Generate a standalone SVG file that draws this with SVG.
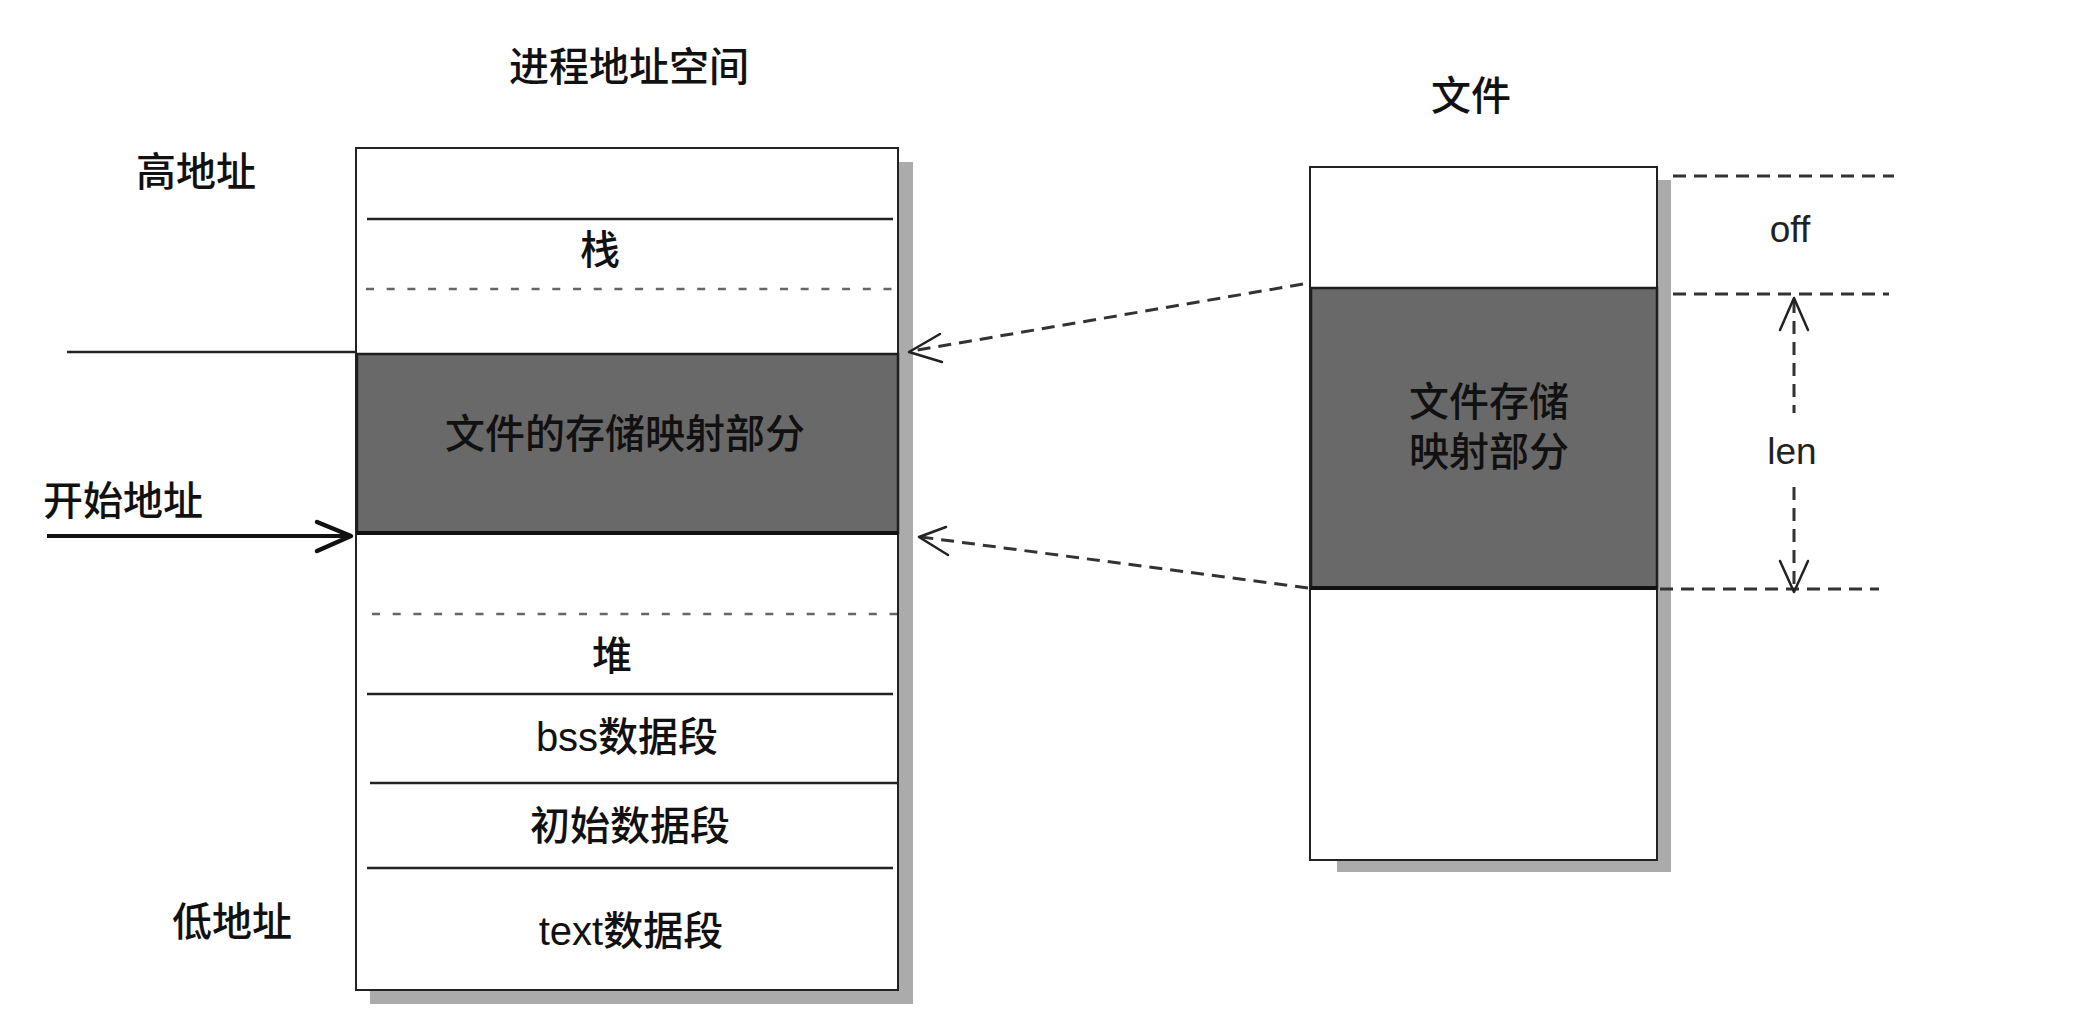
<svg xmlns="http://www.w3.org/2000/svg" width="2095" height="1014" viewBox="0 0 2095 1014">
<style>
text{font-family:"Liberation Sans","Noto Sans CJK SC",sans-serif;font-size:40px;font-weight:500;fill:#111;text-anchor:middle}
.lat{font-size:37px;font-weight:400;fill:#222}
.box{fill:#fff;stroke:#222;stroke-width:2}
.shadow{fill:#ababab}
.band{fill:#696969;stroke:#1e1e1e;stroke-width:2.5}
.sep{stroke:#222;stroke-width:2.5;fill:none}
.dot{stroke:#666;stroke-width:2.5;stroke-dasharray:8 12.7;fill:none}
.dash{stroke:#333;stroke-width:3;stroke-dasharray:13 8;fill:none}
.head{stroke:#222;stroke-width:2.5;fill:none;stroke-linecap:round;stroke-linejoin:round}
</style>
<rect width="2095" height="1014" fill="#fff"/>
<g id="process-space">
<rect class="shadow" x="898" y="162" width="15" height="842"/>
<rect class="shadow" x="370" y="989" width="543" height="15"/>
<rect class="box" x="356" y="148" width="542" height="842"/>
<line class="sep" x1="367" y1="219" x2="893" y2="219"/>
<line class="dot" x1="366" y1="289" x2="895" y2="289"/>
<rect class="band" x="357" y="354" width="541" height="179"/>
<line x1="357" y1="533" x2="898" y2="533" stroke="#111" stroke-width="4"/>
<line class="dot" x1="372" y1="614" x2="897" y2="614"/>
<line class="sep" x1="367" y1="694" x2="893" y2="694"/>
<line class="sep" x1="370" y1="783" x2="897" y2="783"/>
<line class="sep" x1="367" y1="868" x2="893" y2="868"/>
<text x="629" y="81">进程地址空间</text>
<text x="600" y="264">栈</text>
<text x="625" y="448">文件的存储映射部分</text>
<text x="612" y="670">堆</text>
<text x="627" y="751">bss数据段</text>
<text x="630" y="840">初始数据段</text>
<text x="631" y="945">text数据段</text>
</g>
<g id="labels-left">
<text x="196" y="186">高地址</text>
<text x="123" y="515">开始地址</text>
<text x="232" y="936">低地址</text>
</g>
<g id="file">
<rect class="shadow" x="1657" y="180" width="14" height="692"/>
<rect class="shadow" x="1337" y="860" width="334" height="12"/>
<rect class="box" x="1310" y="167" width="347" height="693"/>
<rect class="band" x="1311" y="288" width="346" height="300"/>
<line x1="1311" y1="588" x2="1657" y2="588" stroke="#111" stroke-width="4"/>
<text x="1471" y="110">文件</text>
<text x="1489" y="416">文件存储</text>
<text x="1489" y="466">映射部分</text>
</g>
<g id="dimensions">
<line class="dash" x1="1673" y1="176" x2="1894" y2="176"/>
<line class="dash" x1="1673" y1="294" x2="1889" y2="294"/>
<line class="dash" x1="1660" y1="589" x2="1879" y2="589"/>
<text class="lat" x="1790" y="242">off</text>
<text class="lat" x="1792" y="464">len</text>
</g>
<g id="connectors">
<line x1="67" y1="352" x2="356" y2="352" stroke="#222" stroke-width="2.5"/>
<line x1="47" y1="536" x2="349" y2="536" stroke="#111" stroke-width="4"/>
<path d="M317 522 L351 536 L317 551" stroke="#111" stroke-width="4.5" fill="none" stroke-linecap="round" stroke-linejoin="round"/>
<line class="dash" x1="1303" y1="284" x2="912" y2="351"/>
<path class="head" d="M940 334 L909 352 L942 362"/>
<line class="dash" x1="1308" y1="588" x2="921" y2="537"/>
<path class="head" d="M946 527 L919 537 L948 555"/>
<line class="dash" x1="1794" y1="300" x2="1794" y2="413" stroke-width="2.5"/>
<line class="dash" x1="1794" y1="487" x2="1794" y2="590" stroke-width="2.5"/>
<path class="head" d="M1780 330 L1794 298 L1808 330"/>
<path class="head" d="M1780 561 L1794 592 L1808 561"/>
</g>
</svg>
